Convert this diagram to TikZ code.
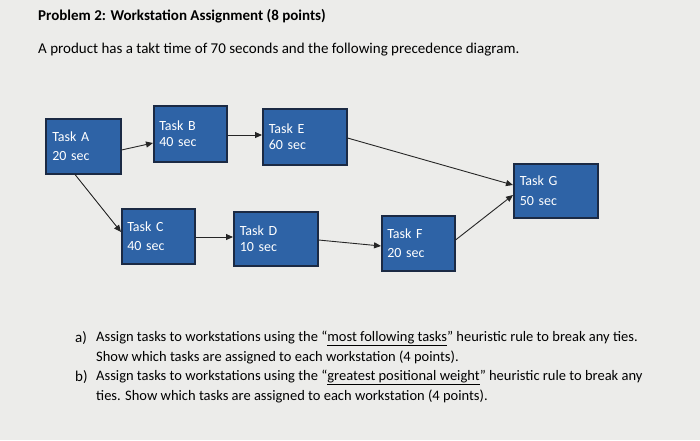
\documentclass[tikz,border=0pt]{standalone}
\usepackage{fontspec}
\setmainfont{Carlito}
\usetikzlibrary{arrows.meta}
\definecolor{boxblue}{HTML}{2E63A6}
\definecolor{boxedge}{HTML}{1B2A44}
\definecolor{bg}{HTML}{ECECEA}
\begin{document}
\begin{tikzpicture}[x=1pt,y=-1pt,
  task/.style={draw=boxedge,line width=1.5pt,fill=boxblue,text=white,anchor=north west,
    align=left,font=\fontsize{14}{16.5}\selectfont,inner sep=4pt},
  link/.style={-{Triangle[length=7pt,width=6pt]},line width=0.9pt,draw=black!85},
  txt/.style={anchor=north west,inner sep=0pt,font=\fontsize{15}{18}\selectfont}]
\fill[bg] (0,0) rectangle (700,440);
\useasboundingbox (0,0) rectangle (700,440);
\node[txt,font=\bfseries\fontsize{15}{18}\selectfont] (t1) at (38,9) {Problem 2: Workstation Assignment (8 points)};
\node[txt] (t2) at (38,43) {A product has a takt time of 70 seconds and the following precedence diagram.};
\node[task,minimum width=75pt,minimum height=55pt,text width=62pt] (A) at (45,118) {Task A\\[3pt]20 sec};
\node[task,minimum width=73pt,minimum height=56pt,text width=62pt] (B) at (153,105) {Task B\\40 sec};
\node[task,minimum width=84pt,minimum height=56pt,text width=72pt] (E) at (262,108) {Task E\\60 sec};
\node[task,minimum width=84pt,minimum height=54pt,text width=72pt] (G) at (513,163) {Task G\\[3pt]50 sec};
\node[task,minimum width=73pt,minimum height=55pt,text width=62pt] (C) at (121,208) {Task C\\[2pt]40 sec};
\node[task,minimum width=84pt,minimum height=54pt,text width=72pt] (D) at (233,211) {Task D\\10 sec};
\node[task,minimum width=73pt,minimum height=55pt,text width=62pt] (F) at (381,215) {Task F\\[3pt]20 sec};
\draw[link] (A.east |- 0,150) -- (B.west |- 0,143);
\draw[link] (A.south -| 75,0) -- (C.west |- 0,232);
\draw[link] (B.east |- 0,135) -- (E.west |- 0,135);
\draw[link] (E.east |- 0,138) -- (G.west |- 0,185);
\draw[link] (F.east |- 0,240) -- (G.west |- 0,195);
\draw[link] (C.east |- 0,237) -- (D.west |- 0,237);
\draw[link] (D.east |- 0,240) -- (F.west |- 0,246);
\node[txt] (qa) at (75,331) {a)};
\node[txt,align=left,font=\fontsize{14.5}{19.5}\selectfont] (qat) at (96,331) {Assign tasks to workstations using the \textquotedblleft\underline{most following tasks}\textquotedblright\ heuristic rule to break any ties.\\Show which tasks are assigned to each workstation (4 points).};
\node[txt] (qb) at (75,370) {b)};
\node[txt,align=left,font=\fontsize{14.5}{19.5}\selectfont] (qbt) at (96,370) {Assign tasks to workstations using the \textquotedblleft\underline{greatest positional weight}\textquotedblright\ heuristic rule to break any\\ties. Show which tasks are assigned to each workstation (4 points).};
\end{tikzpicture}
\end{document}
